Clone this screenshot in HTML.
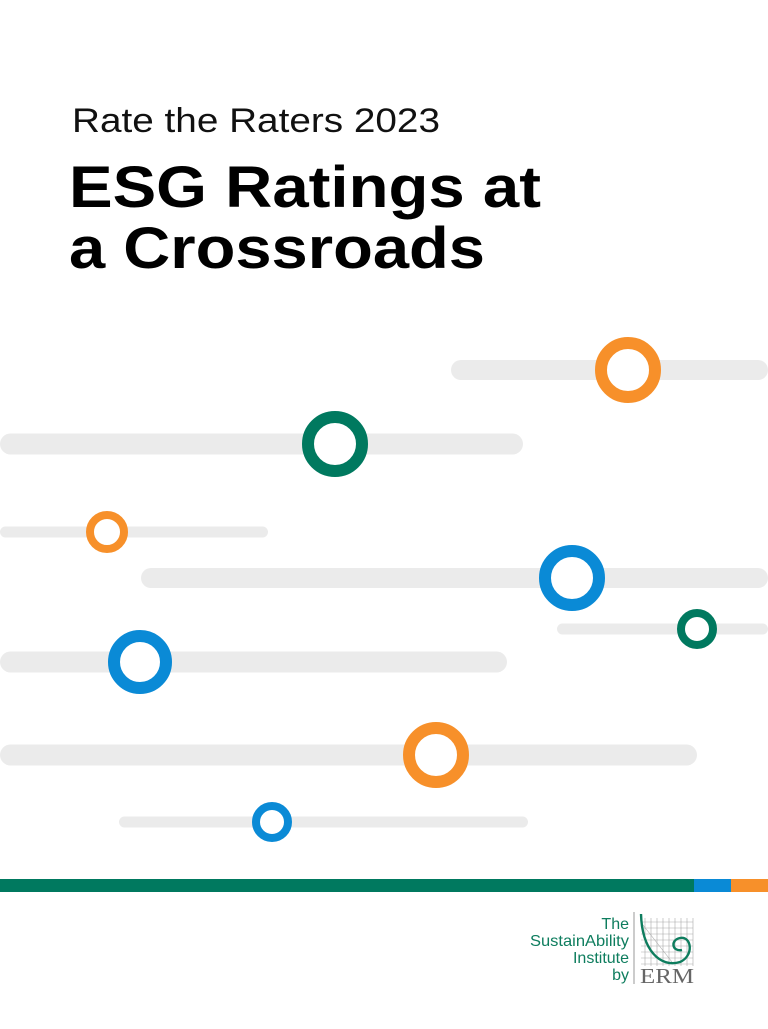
<!DOCTYPE html>
<html><head><meta charset="utf-8">
<style>
html,body{margin:0;padding:0;background:#fff;}
body{width:768px;height:1024px;overflow:hidden;font-family:"Liberation Sans",Arial,sans-serif;}
</style></head>
<body>
<svg id="cover" width="768" height="1024" viewBox="0 0 768 1024">
  <text x="72" y="132" font-size="34" fill="#111" textLength="368" lengthAdjust="spacingAndGlyphs">Rate the Raters 2023</text>
  <text x="69" y="207" font-size="58" font-weight="bold" fill="#000" textLength="472" lengthAdjust="spacingAndGlyphs">ESG Ratings at</text>
  <text x="69" y="268" font-size="58" font-weight="bold" fill="#000" textLength="416" lengthAdjust="spacingAndGlyphs">a Crossroads</text>
  <g id="sliders"></g>
  <rect x="0" y="879" width="694" height="13" fill="#00795f"/>
  <rect x="694" y="879" width="37" height="13" fill="#0a8ad6"/>
  <rect x="731" y="879" width="37" height="13" fill="#f7902a"/>
  <g font-size="16" fill="#0e7d5e" text-anchor="end">
    <text x="629" y="929">The</text>
    <text x="629" y="946" textLength="99" lengthAdjust="spacingAndGlyphs">SustainAbility</text>
    <text x="629" y="963">Institute</text>
    <text x="629" y="980">by</text>
    <line x1="634" y1="912" x2="634" y2="984" stroke="#999" stroke-width="1"/>
    <g stroke="#aaa" stroke-width="0.6">
      <path d="M641 922H693M641 928H693M641 934H693M641 940H693M641 946H693M641 952H693M641 958H693M641 964H693M645 918V966M651 918V966M657 918V966M663 918V966M669 918V966M675 918V966M681 918V966M687 918V966M693 918V966"/>
      <line x1="643" y1="925" x2="672" y2="962"/>
    </g>
    <path d="M641 914 C642 950 660 968 680 962 C694 956 692 936 680 938 C670 940 672 952 682 950" fill="none" stroke="#0e7d5e" stroke-width="2.4"/>
    <text x="640" y="983" font-family="Liberation Serif,serif" font-size="21" fill="#666" text-anchor="start" textLength="54" lengthAdjust="spacingAndGlyphs">ERM</text>
  </g>
</svg>
<script>
// track geometry: [start, end, centerY], marker position along track and colour
const trackStart = [451, 0, 0, 141, 557, 0, 0, 119];
const trackEnd   = [768, 523, 268, 768, 768, 507, 697, 528];
const trackY     = [370, 444, 532, 578, 629, 662, 755, 822];
const trackThick = [20, 21, 11, 20, 11, 21, 21, 11];
const markerX    = [628, 335, 107, 572, 697, 140, 436, 272];
const markerR    = [33, 33, 21, 33, 20, 32, 33, 20];
const markerColor= ["#f7902a","#00795f","#f7902a","#0a8ad6","#00795f","#0a8ad6","#f7902a","#0a8ad6"];
const ns = "http://www.w3.org/2000/svg";
const g = document.getElementById("sliders");
for (let i = 0; i < trackY.length; i++) {
  const t = trackThick[i];
  const r = document.createElementNS(ns, "rect");
  r.setAttribute("x", trackStart[i]);
  r.setAttribute("y", trackY[i] - t/2);
  r.setAttribute("width", trackEnd[i] - trackStart[i]);
  r.setAttribute("height", t);
  r.setAttribute("rx", t/2);
  r.setAttribute("fill", "#ebebeb");
  
  
  g.appendChild(r);
}
for (let i = 0; i < trackY.length; i++) {
  const R = markerR[i];
  const sw = R > 25 ? 12 : 8;
  const c = document.createElementNS(ns, "circle");
  c.setAttribute("cx", markerX[i]);
  c.setAttribute("cy", trackY[i]);
  c.setAttribute("r", R - sw/2);
  c.setAttribute("fill", "#fff");
  c.setAttribute("stroke", markerColor[i]);
  c.setAttribute("stroke-width", sw);
  
  
  g.appendChild(c);
}
</script>
</body></html>
